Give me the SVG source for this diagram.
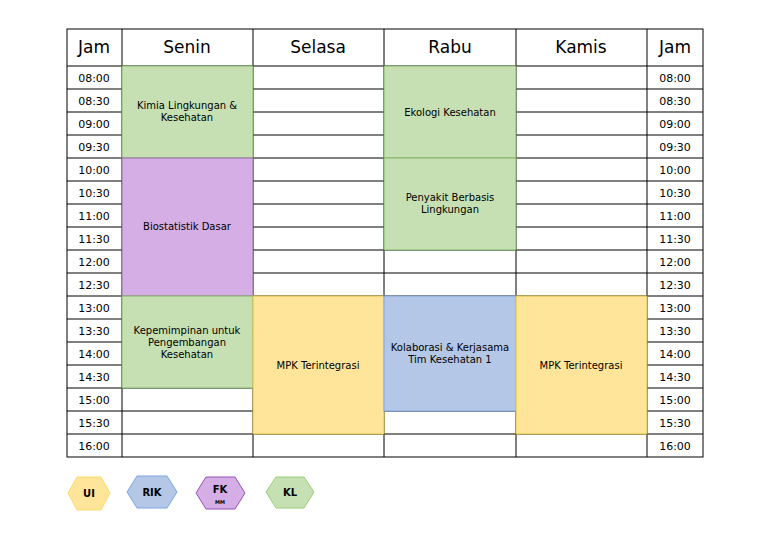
<svg xmlns="http://www.w3.org/2000/svg" width="768" height="543" viewBox="0 0 768 543">
<style>
text{font-family:"DejaVu Sans",sans-serif;fill:#000;text-anchor:middle}
.h{font-size:17px}
.t{font-size:11px}
.c{font-size:10px}
.g{stroke:#000;stroke-width:1;fill:none}
.gr{fill:#c6e0b4;stroke:#82b366}
.pu{fill:#d5aee6;stroke:#9673a6}
.ye{fill:#ffe599;stroke:#e0c040}
.bl{fill:#b4c7e7;stroke:#7ea6e0}
.lg{font-size:10px;font-weight:bold}
</style>
<rect width="768" height="543" fill="#fff"/>
<g id="grid" class="g">
<rect x="67" y="29" width="636" height="428"/>
<path d="M122 29V457M253 29V457M384 29V457M516 29V457M647 29V457"/>
<path d="M67 66H703M67 89H703M67 112H703M67 135H703M67 158H703M67 181H703M67 204H703M67 227H703M67 250H703M67 273H703M67 296H703M67 319H703M67 342H703M67 365H703M67 388H703M67 411H703M67 434H703"/>
</g>
<g id="headers">
<text class="h" x="94" y="53">Jam</text>
<text class="h" x="187" y="53">Senin</text>
<text class="h" x="318" y="53">Selasa</text>
<text class="h" x="450" y="53">Rabu</text>
<text class="h" x="581" y="53">Kamis</text>
<text class="h" x="675" y="53">Jam</text>
</g>
<g id="times">
<g class="t">
<text x="94" y="82">08:00</text><text x="675" y="82">08:00</text>
<text x="94" y="105">08:30</text><text x="675" y="105">08:30</text>
<text x="94" y="128">09:00</text><text x="675" y="128">09:00</text>
<text x="94" y="151">09:30</text><text x="675" y="151">09:30</text>
<text x="94" y="174">10:00</text><text x="675" y="174">10:00</text>
<text x="94" y="197">10:30</text><text x="675" y="197">10:30</text>
<text x="94" y="220">11:00</text><text x="675" y="220">11:00</text>
<text x="94" y="243">11:30</text><text x="675" y="243">11:30</text>
<text x="94" y="266">12:00</text><text x="675" y="266">12:00</text>
<text x="94" y="289">12:30</text><text x="675" y="289">12:30</text>
<text x="94" y="312">13:00</text><text x="675" y="312">13:00</text>
<text x="94" y="335">13:30</text><text x="675" y="335">13:30</text>
<text x="94" y="358">14:00</text><text x="675" y="358">14:00</text>
<text x="94" y="381">14:30</text><text x="675" y="381">14:30</text>
<text x="94" y="404">15:00</text><text x="675" y="404">15:00</text>
<text x="94" y="427">15:30</text><text x="675" y="427">15:30</text>
<text x="94" y="450">16:00</text><text x="675" y="450">16:00</text>
</g>
</g>
<g id="kimia"><rect class="gr" x="122" y="66" width="131" height="92"/><text class="c" x="187" y="109">Kimia Lingkungan &amp;</text><text class="c" x="187" y="121">Kesehatan</text></g>
<g id="biostat"><rect class="pu" x="122" y="158" width="131" height="138"/><text class="c" x="187" y="230">Biostatistik Dasar</text></g>
<g id="kepemimpinan"><rect class="gr" x="122" y="296" width="131" height="92"/><text class="c" x="187" y="334">Kepemimpinan untuk</text><text class="c" x="187" y="346">Pengembangan</text><text class="c" x="187" y="358">Kesehatan</text></g>
<g id="mpk1"><rect class="ye" x="253" y="296" width="131" height="138"/><text class="c" x="318" y="369">MPK Terintegrasi</text></g>
<g id="ekologi"><rect class="gr" x="384" y="66" width="132" height="92"/><text class="c" x="450" y="116">Ekologi Kesehatan</text></g>
<g id="penyakit"><rect class="gr" x="384" y="158" width="132" height="92"/><text class="c" x="450" y="201">Penyakit Berbasis</text><text class="c" x="450" y="213">Lingkungan</text></g>
<g id="kolaborasi"><rect class="bl" x="384" y="296" width="132" height="115"/><text class="c" x="450" y="351">Kolaborasi &amp; Kerjasama</text><text class="c" x="450" y="363">Tim Kesehatan 1</text></g>
<g id="mpk2"><rect class="ye" x="516" y="296" width="131" height="138"/><text class="c" x="581" y="369">MPK Terintegrasi</text></g>
<g id="legend">
<g id="lg-ui"><polygon points="68,493 77,477 101,477 110,493 101,510 77,510" fill="#ffe599" stroke="#ffd966"/><text class="lg" x="89" y="497">UI</text></g>
<g id="lg-rik"><polygon points="127,492 137,476 167,476 177,492 167,508 137,508" fill="#b4c7e7" stroke="#7ea6e0"/><text class="lg" x="152" y="496">RIK</text></g>
<g id="lg-fk"><polygon points="196,493 206,477 235,477 245,493 235,509 206,509" fill="#d5aee6" stroke="#9b4fb6"/><text class="lg" x="220" y="493">FK</text><text x="220" y="504" style="font-size:5px;font-weight:bold">MM</text></g>
<g id="lg-kl"><polygon points="266,492 276,477 304,477 314,492 304,508 276,508" fill="#c6e0b4" stroke="#97d077"/><text class="lg" x="290" y="496">KL</text></g>
</g>
<g id="connectors"/>
</svg>
